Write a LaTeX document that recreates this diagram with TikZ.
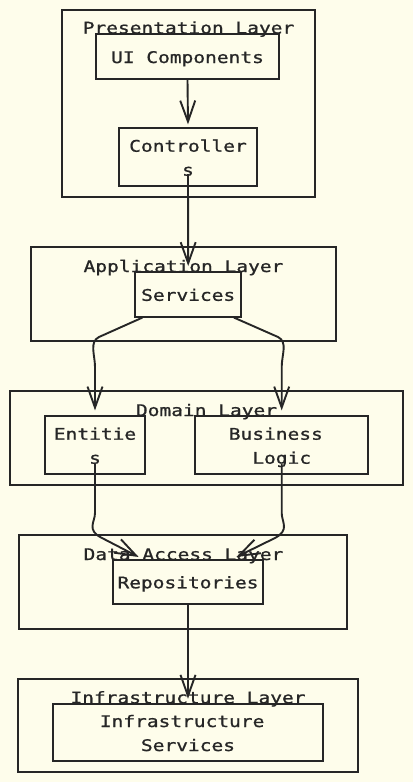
\documentclass[tikz,border=0pt]{standalone}
\usepackage{fontspec}
\setmonofont[FakeStretch=1.22,FakeBold=1]{DejaVu Sans Mono}
\usetikzlibrary{arrows.meta,calc}
\definecolor{paper}{HTML}{FEFDEB}
\definecolor{ink}{HTML}{262626}
\newcommand{\mylw}{1.9pt}
\newcommand{\myfont}{\ttfamily\fontsize{16}{24}\selectfont}
\tikzset{
    clustersty/.style={draw=ink,line width=\mylw,rectangle,inner sep=0pt},
    labelsty/.style={anchor=base,inner sep=0pt,text=ink,font=\myfont},
    boxsty/.style={draw=ink,line width=\mylw,rectangle,inner sep=0pt,align=center,text=ink,font=\myfont,text height=13pt,text depth=0pt},
    tallsty/.style={text height=37pt},
    edgesty/.style={draw=ink,line width=\mylw,->},
}

\begin{document}
\begin{tikzpicture}[x=1pt,y=-1pt,>={Straight Barb[length=21pt,width=15pt]}]
\fill[paper] (0,0) rectangle (413,782);

% layers
\node[clustersty,minimum width=253.3pt,minimum height=187.3pt] (presc) at (188.3,103.7) {};
\node[clustersty,minimum width=305pt,minimum height=94pt] (appc) at (183.2,294.3) {};
\node[clustersty,minimum width=393.6pt,minimum height=94pt] (domc) at (206.5,438) {};
\node[clustersty,minimum width=327.4pt,minimum height=93.7pt] (datc) at (183,581.8) {};
\node[clustersty,minimum width=339.3pt,minimum height=93.3pt] (infc) at (188,725.7) {};

\node[labelsty] (presl) at (188.5,33.5) {Presentation Layer};
\node[labelsty] (appl) at (183.5,272) {Application Layer};
\node[labelsty] (doml) at (206.5,416) {Domain Layer};
\node[labelsty] (datl) at (183.5,560) {Data Access Layer};
\node[labelsty] (infl) at (188,703.3) {Infrastructure Layer};

% components
\node[boxsty,minimum width=183pt,minimum height=44.4pt] (ui) at (187.5,56.5) {UI Components};
\node[boxsty,tallsty,minimum width=138.6pt,minimum height=57.7pt] (ctrl) at (188,157.2) {Controller\\s};
\node[boxsty,minimum width=105.7pt,minimum height=44.7pt] (serv) at (188.2,294.3) {Services};
\node[boxsty,tallsty,minimum width=100pt,minimum height=57.7pt] (ent) at (95,445.2) {Entitie\\s};
\node[boxsty,tallsty,minimum width=173.3pt,minimum height=57.7pt] (biz) at (281.7,445.2) {Business\hphantom{x}\\Logic};
\node[boxsty,minimum width=150.7pt,minimum height=43.7pt] (repo) at (188,581.8) {Repositories};
\node[boxsty,tallsty,minimum width=269.3pt,minimum height=57.7pt] (infs) at (188,732.5) {Infrastructure\hphantom{x}\\Services};

% edges
\draw[edgesty] (ui.south) -- ([yshift=3pt]ctrl.north);
\draw[edgesty] ([yshift=13pt]ctrl.south) -- ([yshift=5pt]serv.north);
\draw[edgesty] ([xshift=8pt]serv.south west) -- (99,337) .. controls (89,342) and (95,355) .. (95,367) -- ([yshift=5pt]ent.north);
\draw[edgesty] ([xshift=-8pt]serv.south east) -- (278,337) .. controls (288,342) and (281.7,355) .. (281.7,367) -- ([yshift=5pt]biz.north);
\draw[edgesty] ([yshift=11pt]ent.south) -- (95,513) .. controls (95,522) and (86,530) .. (102,538) -- ([xshift=27pt,yshift=2pt]repo.north west);
\draw[edgesty] ([yshift=11pt]biz.south) -- (281.7,513) .. controls (281.7,522) and (290,530) .. (275,538) -- ([xshift=-28pt,yshift=2pt]repo.north east);
\draw[edgesty] (repo.south) -- ([yshift=4pt]infs.north);
\end{tikzpicture}
\end{document}
